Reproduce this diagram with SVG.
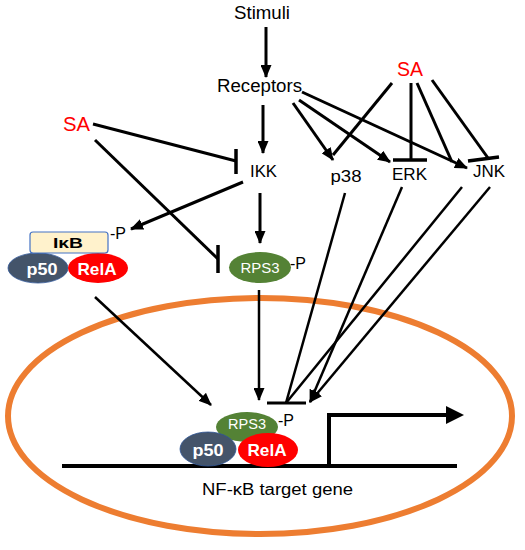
<svg xmlns="http://www.w3.org/2000/svg" width="525" height="550" viewBox="0 0 525 550">
<style>
.t{font-family:"Liberation Sans",Arial,sans-serif;fill:#000}
.sa{font-family:"Liberation Sans",Arial,sans-serif;fill:#FF0000;font-size:21px}
.w{font-family:"Liberation Sans",Arial,sans-serif;fill:#fff}
.wb{font-family:"Liberation Sans",Arial,sans-serif;fill:#fff;font-weight:bold}
.ln{stroke:#000;stroke-width:3;fill:none}
.ln2{stroke:#000;stroke-width:2.5;fill:none}
.bar{stroke:#000;stroke-width:3.5;fill:none}
.arr{marker-end:url(#ah)}
</style>
<defs>
<marker id="ah" markerUnits="userSpaceOnUse" markerWidth="13" markerHeight="11" refX="12" refY="5.5" orient="auto">
<path d="M0,0 L13,5.5 L0,11 z" fill="#000"/>
</marker>
</defs>
<g id="nucleus">
<ellipse cx="260" cy="416" rx="252" ry="118" fill="none" stroke="#ED7D31" stroke-width="6"/>
</g>
<g id="connectors">
<line class="ln arr" x1="266" y1="27" x2="266" y2="77"/>
<line class="ln arr" x1="263" y1="105" x2="263" y2="153"/>
<line class="ln arr" x1="260" y1="193" x2="260" y2="243"/>
<line class="ln" x1="93" y1="124" x2="236" y2="161"/>
<line class="bar" x1="236" y1="149" x2="236" y2="174"/>
<line class="ln" x1="95" y1="140" x2="218" y2="259"/>
<line class="bar" x1="218" y1="245" x2="218" y2="273"/>
<line class="ln arr" x1="243" y1="182" x2="131" y2="229"/>
<line class="ln2 arr" x1="95" y1="297" x2="211" y2="405"/>
<line class="ln2 arr" x1="259" y1="290" x2="259" y2="400"/>
<line class="ln2" x1="345" y1="193" x2="286" y2="403"/>
<line class="ln2" x1="462" y1="187" x2="286" y2="403"/>
<line class="ln2 arr" x1="402" y1="187" x2="310" y2="402"/>
<line class="ln2 arr" x1="490" y1="187" x2="310" y2="402"/>
<line class="ln" x1="267" y1="403" x2="306" y2="403"/>
<line class="ln arr" x1="293" y1="103" x2="333" y2="160"/>
<line class="ln arr" x1="299" y1="100" x2="390" y2="162"/>
<line class="ln arr" x1="302" y1="92" x2="467" y2="168"/>
<line class="ln" x1="392" y1="83" x2="333" y2="155"/>
<line class="ln" x1="411" y1="83" x2="411" y2="160"/>
<line class="bar" x1="393" y1="160" x2="427" y2="160"/>
<line class="ln" x1="417" y1="83" x2="452" y2="162"/>
<line class="ln" x1="432" y1="80" x2="488" y2="158"/>
<line class="bar" x1="468" y1="161" x2="499" y2="157"/>
</g>
<g id="stimuli"><text class="t" x="262" y="19" font-size="18" text-anchor="middle" textLength="56" lengthAdjust="spacingAndGlyphs">Stimuli</text></g>
<g id="receptors"><text class="t" x="259.5" y="92" font-size="18" text-anchor="middle" textLength="85" lengthAdjust="spacingAndGlyphs">Receptors</text></g>
<g id="ikk"><text class="t" x="263.5" y="177" font-size="17" text-anchor="middle" textLength="27" lengthAdjust="spacingAndGlyphs">IKK</text></g>
<g id="sa-left"><text class="sa" x="63" y="131" textLength="27" lengthAdjust="spacingAndGlyphs">SA</text></g>
<g id="sa-right"><text class="sa" x="397" y="76" textLength="26" lengthAdjust="spacingAndGlyphs">SA</text></g>
<g id="p38"><text class="t" x="346" y="182" font-size="16" text-anchor="middle" textLength="31" lengthAdjust="spacingAndGlyphs">p38</text></g>
<g id="erk"><text class="t" x="409.5" y="180" font-size="16" text-anchor="middle" textLength="35" lengthAdjust="spacingAndGlyphs">ERK</text></g>
<g id="jnk"><text class="t" x="489" y="177" font-size="16" text-anchor="middle" textLength="32" lengthAdjust="spacingAndGlyphs">JNK</text></g>
<g id="ikb-complex">
<ellipse cx="38" cy="268" rx="30" ry="15" fill="#44546A" stroke="#2F5597" stroke-width="0.8"/>
<ellipse cx="98" cy="268" rx="30" ry="15" fill="#FF0000"/>
<rect x="30" y="232" width="78" height="21" rx="3" fill="#FFF2CC" stroke="#4472C4" stroke-width="1.2"/>
<text class="t" x="68" y="248" font-size="14" font-weight="bold" text-anchor="middle" fill="#333" textLength="30" lengthAdjust="spacingAndGlyphs">IκB</text>
<text class="wb" x="42" y="275" font-size="17" text-anchor="middle" textLength="31" lengthAdjust="spacingAndGlyphs">p50</text>
<text class="wb" x="97" y="275" font-size="17" text-anchor="middle" textLength="39" lengthAdjust="spacingAndGlyphs">RelA</text>
<text class="t" x="110" y="239" font-size="16">-P</text>
</g>
<g id="rps3-cyto">
<ellipse cx="260" cy="267.5" rx="31" ry="15.5" fill="#548235"/>
<text class="w" x="260" y="272.5" font-size="14" text-anchor="middle" textLength="39" lengthAdjust="spacingAndGlyphs">RPS3</text>
<text class="t" x="290" y="269" font-size="16">-P</text>
</g>
<g id="gene">
<line x1="62" y1="466" x2="457" y2="466" stroke="#000" stroke-width="4"/>
<path d="M329,466 V415 H450" fill="none" stroke="#000" stroke-width="4"/>
<polygon points="446,406 464,415 446,424" fill="#000"/>
<text class="t" x="277.5" y="495" font-size="16" text-anchor="middle" textLength="151" lengthAdjust="spacingAndGlyphs">NF-κB target gene</text>
</g>
<g id="nf-kb-nuclear">
<ellipse cx="247" cy="427" rx="31" ry="15" fill="#548235"/>
<ellipse cx="208" cy="449" rx="28" ry="17" fill="#44546A" stroke="#2F5597" stroke-width="0.8"/>
<ellipse cx="268" cy="450" rx="30" ry="17" fill="#FF0000"/>
<text class="w" x="247" y="428.5" font-size="14" text-anchor="middle" textLength="38" lengthAdjust="spacingAndGlyphs">RPS3</text>
<text class="t" x="278" y="426" font-size="16">-P</text>
<text class="wb" x="208" y="456" font-size="17" text-anchor="middle" textLength="31" lengthAdjust="spacingAndGlyphs">p50</text>
<text class="wb" x="267" y="456" font-size="17" text-anchor="middle" textLength="39" lengthAdjust="spacingAndGlyphs">RelA</text>
</g>
</svg>
